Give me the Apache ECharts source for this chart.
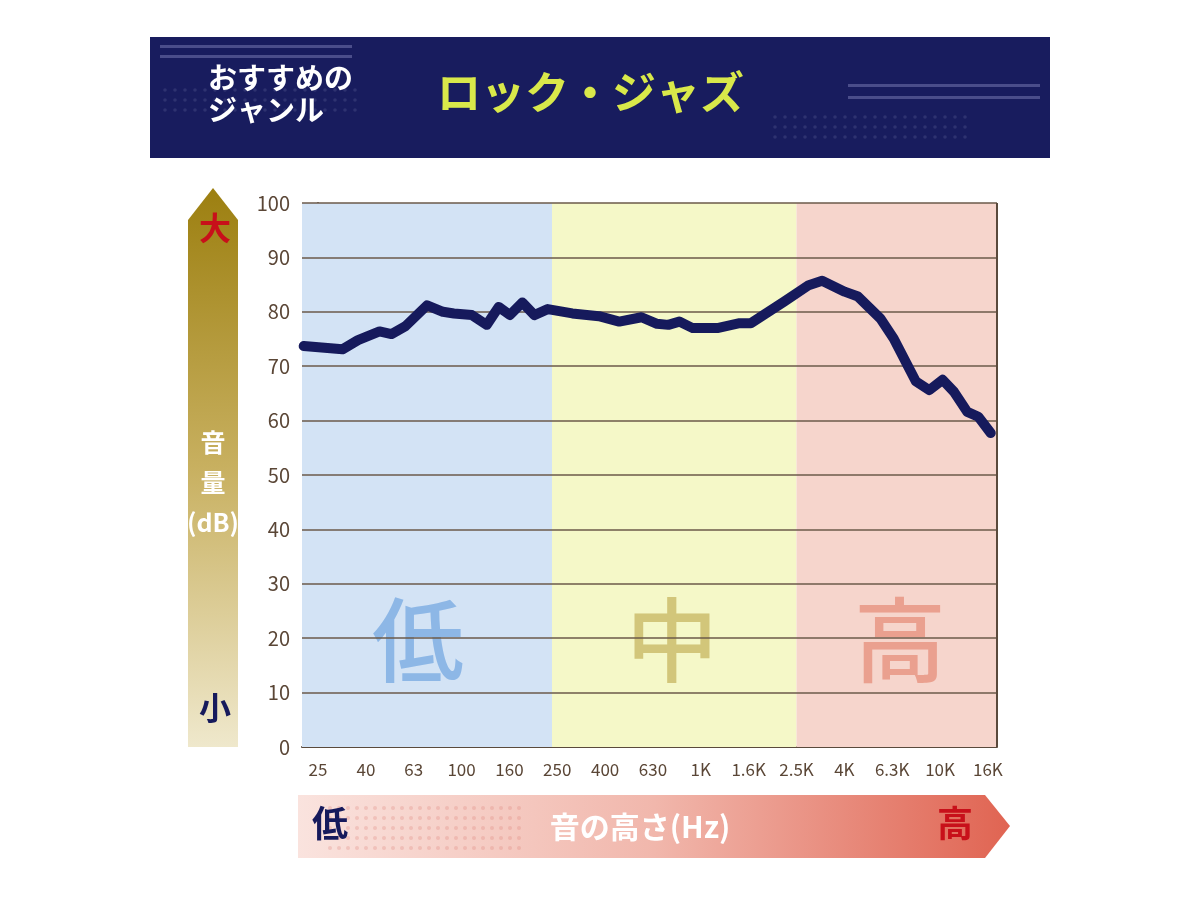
<!DOCTYPE html>
<html><head><meta charset="utf-8">
<script src="https://cdn.jsdelivr.net/npm/echarts@6/dist/echarts.min.js"></script>
<style>html,body{margin:0;background:#fff}#c{width:1200px;height:900px}</style>
</head><body><div id="c"></div>
<script>
// x in third-octave band index (25Hz = 0, 16K = 28)
const curveX = [-0.60,1.02,1.67,2.57,3.07,3.64,4.56,5.22,5.68,6.43,7.05,7.55,8.02,8.54,9.04,9.60,10.63,11.74,12.59,13.52,14.17,14.64,15.10,15.66,16.69,17.62,18.09,19.49,20.51,21.07,22.01,22.57,23.50,24.06,24.99,25.55,26.11,26.58,27.14,27.60,28.12];
const curveY = [73.7,73.1,74.8,76.4,75.9,77.3,81.2,80.0,79.7,79.4,77.6,80.9,79.4,81.7,79.4,80.5,79.7,79.2,78.2,79.0,77.8,77.6,78.2,77.0,77.0,77.9,77.9,81.9,84.9,85.7,83.7,82.8,78.8,75.1,67.2,65.6,67.5,65.3,61.6,60.7,57.7];
const tickPos = [0,2,4,6,8,10,12,14,16,18,20,22,24,26,28];
const tickLabels = ['25','40','63','100','160','250','400','630','1K','1.6K','2.5K','4K','6.3K','10K','16K'];
const yTicks = [10,20,30,40,50,60,70,80,90,100];
const bandEdges = [-0.67, 9.78, 20.0, 28.38];

const F = '"Noto Sans CJK JP","Noto Sans",sans-serif';
const chart = echarts.init(document.getElementById('c'));
const labelMap = {}; tickPos.forEach((p,i)=>labelMap[p]=tickLabels[i]);

const dots = [];
for (let r=0;r<3;r++) for (let c=0;c<20;c++) {
  dots.push({type:'circle',shape:{cx:165+c*10,cy:90+r*10,r:1.8},style:{fill:'#2e3270'}});
  dots.push({type:'circle',shape:{cx:775+c*10,cy:117+r*10,r:1.8},style:{fill:'#2e3270'}});
}
const halftone = [];
for (let c=0;c<22;c++) for (let r=0;r<5;r++) {
  halftone.push({type:'circle',shape:{cx:330+c*9,cy:808+r*10,r:2},style:{fill:'rgba(220,120,110,0.25)'}});
}

chart.setOption({
  animation:false,
  grid:{left:302,right:203,top:203,bottom:153},
  xAxis:{type:'value',min:bandEdges[0],max:bandEdges[3],
    axisLine:{show:true,lineStyle:{color:'#5a4a3c',width:2}},
    axisTick:{show:false},splitLine:{show:false},
    axisLabel:{customValues:tickPos,formatter:v=>labelMap[Math.round(v)]||'',color:'#5a4636',fontSize:17,fontFamily:F,margin:14}},
  yAxis:{type:'value',min:0,max:100,interval:10,
    axisLine:{show:true,lineStyle:{color:'#5a4a3c',width:2}},
    axisTick:{show:false},splitLine:{show:false},
    axisLabel:{color:'#5a4636',fontSize:20,fontFamily:F,margin:12}},
  series:[
    {type:'line',data:[],z:1,
     markArea:{silent:true,data:[
      [{xAxis:bandEdges[0],itemStyle:{color:'#d3e3f5'}},{xAxis:bandEdges[1]}],
      [{xAxis:bandEdges[1],itemStyle:{color:'#f5f8c8'}},{xAxis:bandEdges[2]}],
      [{xAxis:bandEdges[2],itemStyle:{color:'#f6d5cc'}},{xAxis:bandEdges[3]}]]},
     markLine:{silent:true,symbol:'none',label:{show:false},
      lineStyle:{color:'#6b5a4a',width:1.5,type:'solid'},
      data:[...yTicks.map(v=>({yAxis:v})),{xAxis:bandEdges[3],lineStyle:{width:2,color:'#5a4a3c'}}]}},
    {type:'line',data:curveX.map((x,i)=>[x,curveY[i]]),symbol:'none',
    lineStyle:{color:'#161a5c',width:10,cap:'round',join:'round'},z:5}],
  graphic:[
    {type:'rect',shape:{x:150,y:37,width:900,height:121},style:{fill:'#181c5e'}},
    {type:'rect',shape:{x:160,y:45,width:192,height:3},style:{fill:'#4a4d8a'}},
    {type:'rect',shape:{x:160,y:55,width:192,height:3},style:{fill:'#4a4d8a'}},
    {type:'rect',shape:{x:848,y:84,width:192,height:3},style:{fill:'#4a4d8a'}},
    {type:'rect',shape:{x:848,y:96,width:192,height:3},style:{fill:'#4a4d8a'}},
    ...dots,
    {type:'text',left:208,top:62,style:{text:'おすすめの\nジャンル',fill:'#fff',font:'bold 29px '+F,lineHeight:32}},
    {type:'text',left:437,top:70,style:{text:'ロック・ジャズ',fill:'#d9e84a',font:'bold 44px '+F}},
    {type:'polygon',shape:{points:[[188,220],[213,188],[238,220],[238,747],[188,747]]},
      style:{fill:new echarts.graphic.LinearGradient(0,0,0,1,[{offset:0,color:'#9c7f10'},{offset:0.5,color:'#c8b060'},{offset:1,color:'#efe8cc'}])}},
    {type:'text',left:199,top:212,style:{text:'大',fill:'#c8101a',font:'bold 32px '+F}},
    {type:'text',left:199,top:692,style:{text:'小',fill:'#161a5c',font:'bold 32px '+F}},
    {type:'text',x:213,y:482,style:{text:'音\n量\n(dB)',fill:'#fff',font:'bold 25px '+F,align:'center',verticalAlign:'middle',lineHeight:40}},
    {type:'polygon',shape:{points:[[298,795],[985,795],[1010,826],[985,858],[298,858]]},
      style:{fill:new echarts.graphic.LinearGradient(0,0,1,0,[{offset:0,color:'#fae3de'},{offset:0.5,color:'#f1b7ac'},{offset:1,color:'#e06452'}])}},
    ...halftone,
    {type:'text',left:312,top:805,style:{text:'低',fill:'#161a5c',font:'bold 36px '+F}},
    {type:'text',left:937,top:805,style:{text:'高',fill:'#c8101a',font:'bold 36px '+F}},
    {type:'text',x:640,y:827,style:{text:'音の高さ(Hz)',fill:'#fff',font:'bold 30px '+F,align:'center',verticalAlign:'middle'}},
    {type:'text',x:418,y:640,z:3,style:{text:'低',fill:'#8db7e6',font:'500 92px '+F,align:'center',verticalAlign:'middle'}},
    {type:'text',x:672,y:640,z:3,style:{text:'中',fill:'#d2c67a',font:'500 92px '+F,align:'center',verticalAlign:'middle'}},
    {type:'text',x:900,y:640,z:3,style:{text:'高',fill:'#eaa08f',font:'500 92px '+F,align:'center',verticalAlign:'middle'}}
  ]
});
</script></body></html>
